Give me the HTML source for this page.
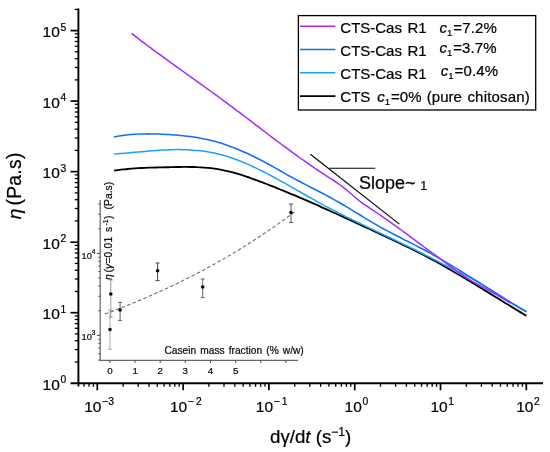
<!DOCTYPE html>
<html><head><meta charset="utf-8"><title>Viscosity</title>
<style>html,body{margin:0;padding:0;background:#fff}svg{display:block}</style></head>
<body>
<svg width="550" height="452" viewBox="0 0 550 452" font-family='"Liberation Sans", Arial, sans-serif'>
<rect width="550" height="452" fill="#fff"/>
<style>text{stroke:#000;stroke-width:0.22px;stroke-linejoin:round}</style>
<path d="M114.0,170.7 L117.5,170.2 L120.9,169.7 L124.4,169.3 L127.9,169.0 L131.3,168.7 L134.8,168.4 L138.3,168.2 L141.7,168.0 L145.2,167.9 L148.7,167.7 L152.1,167.6 L155.6,167.5 L159.1,167.4 L162.5,167.3 L166.0,167.2 L169.4,167.2 L172.9,167.1 L176.4,167.0 L179.8,167.0 L183.3,166.9 L186.8,166.9 L190.2,167.0 L193.7,167.0 L197.2,167.2 L200.6,167.3 L204.1,167.6 L207.6,167.9 L211.0,168.2 L214.5,168.7 L218.0,169.2 L221.4,169.9 L224.9,170.6 L228.4,171.4 L231.8,172.2 L235.3,173.2 L238.8,174.2 L242.2,175.2 L245.7,176.4 L249.2,177.5 L252.6,178.8 L256.1,180.0 L259.6,181.3 L263.0,182.6 L266.5,184.0 L269.9,185.3 L273.4,186.7 L276.9,188.1 L280.3,189.5 L283.8,190.9 L287.3,192.3 L290.7,193.8 L294.2,195.2 L297.7,196.7 L301.1,198.2 L304.6,199.7 L308.1,201.2 L311.5,202.7 L315.0,204.2 L318.5,205.7 L321.9,207.3 L325.4,208.8 L328.9,210.4 L332.3,212.0 L335.8,213.5 L339.3,215.1 L342.7,216.7 L346.2,218.3 L349.7,219.9 L353.1,221.5 L356.6,223.1 L360.1,224.7 L363.5,226.3 L367.0,227.9 L370.5,229.5 L373.9,231.1 L377.4,232.7 L380.8,234.3 L384.3,235.9 L387.8,237.6 L391.2,239.2 L394.7,240.8 L398.2,242.5 L401.6,244.1 L405.1,245.8 L408.6,247.5 L412.0,249.2 L415.5,250.9 L419.0,252.7 L422.4,254.4 L425.9,256.3 L429.4,258.1 L432.8,260.0 L436.3,261.8 L439.8,263.8 L443.2,265.7 L446.7,267.7 L450.2,269.7 L453.6,271.7 L457.1,273.7 L460.6,275.7 L464.0,277.8 L467.5,279.9 L471.0,281.9 L474.4,284.0 L477.9,286.1 L481.3,288.3 L484.8,290.4 L488.3,292.5 L491.7,294.6 L495.2,296.8 L498.7,298.9 L502.1,301.0 L505.6,303.2 L509.1,305.3 L512.5,307.4 L516.0,309.5 L519.5,311.6 L522.9,313.8 L526.4,315.8" fill="none" stroke="#000" stroke-width="1.85" stroke-linejoin="round"/>
<path d="M114.0,154.0 L117.5,153.8 L120.9,153.5 L124.4,153.2 L127.9,152.9 L131.3,152.6 L134.8,152.3 L138.3,152.0 L141.7,151.7 L145.2,151.4 L148.7,151.1 L152.1,150.8 L155.6,150.6 L159.1,150.3 L162.5,150.1 L166.0,149.9 L169.4,149.8 L172.9,149.7 L176.4,149.6 L179.8,149.6 L183.3,149.7 L186.8,149.8 L190.2,149.9 L193.7,150.2 L197.2,150.4 L200.6,150.8 L204.1,151.3 L207.6,151.8 L211.0,152.4 L214.5,153.1 L218.0,153.9 L221.4,154.8 L224.9,155.8 L228.4,156.8 L231.8,158.0 L235.3,159.2 L238.8,160.5 L242.2,161.9 L245.7,163.4 L249.2,164.9 L252.6,166.5 L256.1,168.1 L259.6,169.8 L263.0,171.5 L266.5,173.3 L269.9,175.1 L273.4,177.0 L276.9,178.9 L280.3,180.8 L283.8,182.7 L287.3,184.7 L290.7,186.6 L294.2,188.6 L297.7,190.6 L301.1,192.5 L304.6,194.5 L308.1,196.5 L311.5,198.4 L315.0,200.4 L318.5,202.3 L321.9,204.2 L325.4,206.1 L328.9,207.9 L332.3,209.7 L335.8,211.5 L339.3,213.3 L342.7,215.0 L346.2,216.8 L349.7,218.5 L353.1,220.2 L356.6,221.9 L360.1,223.5 L363.5,225.2 L367.0,226.9 L370.5,228.5 L373.9,230.1 L377.4,231.8 L380.8,233.4 L384.3,235.1 L387.8,236.7 L391.2,238.3 L394.7,240.0 L398.2,241.6 L401.6,243.3 L405.1,245.0 L408.6,246.6 L412.0,248.3 L415.5,250.0 L419.0,251.8 L422.4,253.5 L425.9,255.3 L429.4,257.0 L432.8,258.8 L436.3,260.6 L439.8,262.4 L443.2,264.2 L446.7,266.0 L450.2,267.7 L453.6,269.5 L457.1,271.2 L460.6,272.8 L464.0,274.6 L467.5,276.3 L471.0,278.1 L474.4,280.0 L477.9,282.0 L481.3,284.1 L484.8,286.2 L488.3,288.3 L491.7,290.5 L495.2,292.8 L498.7,295.0 L502.1,297.2 L505.6,299.5 L509.1,301.7 L512.5,303.8 L516.0,305.9 L519.5,308.0 L522.9,309.9 L526.4,311.8" fill="none" stroke="#1da1f8" stroke-width="1.5" stroke-linejoin="round"/>
<path d="M114.0,137.0 L117.5,136.3 L120.9,135.8 L124.4,135.3 L127.9,134.8 L131.3,134.5 L134.8,134.2 L138.3,134.1 L141.7,133.9 L145.2,133.9 L148.7,133.8 L152.1,133.9 L155.6,134.0 L159.1,134.1 L162.5,134.2 L166.0,134.4 L169.4,134.6 L172.9,134.9 L176.4,135.1 L179.8,135.4 L183.3,135.8 L186.8,136.2 L190.2,136.6 L193.7,137.1 L197.2,137.6 L200.6,138.2 L204.1,138.9 L207.6,139.6 L211.0,140.4 L214.5,141.3 L218.0,142.3 L221.4,143.3 L224.9,144.5 L228.4,145.7 L231.8,146.9 L235.3,148.3 L238.8,149.7 L242.2,151.2 L245.7,152.7 L249.2,154.3 L252.6,156.0 L256.1,157.7 L259.6,159.5 L263.0,161.3 L266.5,163.1 L269.9,165.0 L273.4,166.9 L276.9,168.9 L280.3,170.8 L283.8,172.8 L287.3,174.8 L290.7,176.7 L294.2,178.6 L297.7,180.5 L301.1,182.3 L304.6,184.1 L308.1,185.9 L311.5,187.7 L315.0,189.5 L318.5,191.2 L321.9,193.0 L325.4,194.9 L328.9,196.7 L332.3,198.6 L335.8,200.6 L339.3,202.5 L342.7,204.5 L346.2,206.6 L349.7,208.7 L353.1,210.8 L356.6,212.9 L360.1,215.0 L363.5,217.2 L367.0,219.3 L370.5,221.4 L373.9,223.4 L377.4,225.4 L380.8,227.4 L384.3,229.3 L387.8,231.1 L391.2,232.9 L394.7,234.8 L398.2,236.5 L401.6,238.3 L405.1,240.1 L408.6,241.8 L412.0,243.6 L415.5,245.4 L419.0,247.2 L422.4,249.0 L425.9,250.8 L429.4,252.7 L432.8,254.7 L436.3,256.6 L439.8,258.6 L443.2,260.6 L446.7,262.6 L450.2,264.7 L453.6,266.8 L457.1,268.9 L460.6,271.0 L464.0,273.1 L467.5,275.3 L471.0,277.4 L474.4,279.6 L477.9,281.7 L481.3,283.9 L484.8,286.1 L488.3,288.3 L491.7,290.5 L495.2,292.6 L498.7,294.8 L502.1,297.0 L505.6,299.1 L509.1,301.2 L512.5,303.4 L516.0,305.5 L519.5,307.6 L522.9,309.6 L526.4,311.7" fill="none" stroke="#0f6ff2" stroke-width="1.55" stroke-linejoin="round"/>
<path d="M131.6,33.4 L134.8,35.9 L138.0,38.3 L141.1,40.8 L144.3,43.2 L147.5,45.5 L150.7,47.9 L153.9,50.3 L157.0,52.6 L160.2,54.9 L163.4,57.2 L166.6,59.6 L169.8,61.9 L172.9,64.1 L176.1,66.4 L179.3,68.7 L182.5,71.0 L185.7,73.3 L188.8,75.6 L192.0,77.8 L195.2,80.1 L198.4,82.4 L201.6,84.7 L204.7,87.0 L207.9,89.2 L211.1,91.5 L214.3,93.9 L217.5,96.2 L220.6,98.5 L223.8,100.8 L227.0,103.2 L230.2,105.6 L233.4,107.9 L236.5,110.3 L239.7,112.7 L242.9,115.1 L246.1,117.5 L249.3,119.9 L252.4,122.4 L255.6,124.8 L258.8,127.2 L262.0,129.6 L265.2,132.0 L268.3,134.5 L271.5,136.9 L274.7,139.3 L277.9,141.6 L281.1,144.0 L284.2,146.4 L287.4,148.7 L290.6,151.1 L293.8,153.4 L297.0,155.7 L300.1,158.0 L303.3,160.2 L306.5,162.4 L309.7,164.7 L312.9,166.8 L316.0,169.0 L319.2,171.1 L322.4,173.2 L325.6,175.3 L328.7,177.3 L331.9,179.4 L335.1,181.5 L338.3,183.7 L341.5,186.0 L344.6,188.4 L347.8,191.0 L351.0,193.7 L354.2,196.5 L357.4,199.2 L360.5,201.8 L363.7,204.1 L366.9,206.2 L370.1,208.3 L373.3,210.4 L376.4,212.5 L379.6,214.6 L382.8,216.8 L386.0,219.1 L389.2,221.3 L392.3,223.6 L395.5,225.9 L398.7,228.2 L401.9,230.5 L405.1,232.9 L408.2,235.2 L411.4,237.6 L414.6,239.9 L417.8,242.3 L421.0,244.6 L424.1,247.0 L427.3,249.3 L430.5,251.6 L433.7,254.0 L436.9,256.3 L440.0,258.7 L443.2,261.1 L446.4,263.5 L449.6,265.9 L452.8,268.2 L455.9,270.6 L459.1,272.8 L462.3,275.0 L465.5,277.2 L468.7,279.2 L471.8,281.1 L475.0,282.9 L478.2,284.7 L481.4,286.5 L484.6,288.2 L487.7,289.9 L490.9,291.6 L494.1,293.4 L497.3,295.1 L500.5,297.0 L503.6,298.9 L506.8,300.9 L510.0,303.0" fill="none" stroke="#a629ff" stroke-width="1.5" stroke-linejoin="round"/>
<g stroke="#000" fill="none">
<line x1="78.4" y1="8.5" x2="78.4" y2="386.6" stroke-width="1.9"/>
<line x1="70.5" y1="383.2" x2="543" y2="383.2" stroke-width="1.9"/>
<line x1="74.8" y1="362.0" x2="78.4" y2="362.0" stroke-width="1.3"/>
<line x1="74.8" y1="349.6" x2="78.4" y2="349.6" stroke-width="1.3"/>
<line x1="74.8" y1="340.7" x2="78.4" y2="340.7" stroke-width="1.3"/>
<line x1="74.8" y1="333.9" x2="78.4" y2="333.9" stroke-width="1.3"/>
<line x1="74.8" y1="328.3" x2="78.4" y2="328.3" stroke-width="1.3"/>
<line x1="74.8" y1="323.6" x2="78.4" y2="323.6" stroke-width="1.3"/>
<line x1="74.8" y1="319.5" x2="78.4" y2="319.5" stroke-width="1.3"/>
<line x1="74.8" y1="315.9" x2="78.4" y2="315.9" stroke-width="1.3"/>
<line x1="70.5" y1="312.7" x2="78.4" y2="312.7" stroke-width="1.7"/>
<line x1="74.8" y1="291.5" x2="78.4" y2="291.5" stroke-width="1.3"/>
<line x1="74.8" y1="279.0" x2="78.4" y2="279.0" stroke-width="1.3"/>
<line x1="74.8" y1="270.2" x2="78.4" y2="270.2" stroke-width="1.3"/>
<line x1="74.8" y1="263.4" x2="78.4" y2="263.4" stroke-width="1.3"/>
<line x1="74.8" y1="257.8" x2="78.4" y2="257.8" stroke-width="1.3"/>
<line x1="74.8" y1="253.1" x2="78.4" y2="253.1" stroke-width="1.3"/>
<line x1="74.8" y1="249.0" x2="78.4" y2="249.0" stroke-width="1.3"/>
<line x1="74.8" y1="245.4" x2="78.4" y2="245.4" stroke-width="1.3"/>
<line x1="70.5" y1="242.2" x2="78.4" y2="242.2" stroke-width="1.7"/>
<line x1="74.8" y1="220.9" x2="78.4" y2="220.9" stroke-width="1.3"/>
<line x1="74.8" y1="208.5" x2="78.4" y2="208.5" stroke-width="1.3"/>
<line x1="74.8" y1="199.7" x2="78.4" y2="199.7" stroke-width="1.3"/>
<line x1="74.8" y1="192.9" x2="78.4" y2="192.9" stroke-width="1.3"/>
<line x1="74.8" y1="187.3" x2="78.4" y2="187.3" stroke-width="1.3"/>
<line x1="74.8" y1="182.6" x2="78.4" y2="182.6" stroke-width="1.3"/>
<line x1="74.8" y1="178.5" x2="78.4" y2="178.5" stroke-width="1.3"/>
<line x1="74.8" y1="174.9" x2="78.4" y2="174.9" stroke-width="1.3"/>
<line x1="70.5" y1="171.6" x2="78.4" y2="171.6" stroke-width="1.7"/>
<line x1="74.8" y1="150.4" x2="78.4" y2="150.4" stroke-width="1.3"/>
<line x1="74.8" y1="138.0" x2="78.4" y2="138.0" stroke-width="1.3"/>
<line x1="74.8" y1="129.2" x2="78.4" y2="129.2" stroke-width="1.3"/>
<line x1="74.8" y1="122.3" x2="78.4" y2="122.3" stroke-width="1.3"/>
<line x1="74.8" y1="116.8" x2="78.4" y2="116.8" stroke-width="1.3"/>
<line x1="74.8" y1="112.0" x2="78.4" y2="112.0" stroke-width="1.3"/>
<line x1="74.8" y1="108.0" x2="78.4" y2="108.0" stroke-width="1.3"/>
<line x1="74.8" y1="104.3" x2="78.4" y2="104.3" stroke-width="1.3"/>
<line x1="70.5" y1="101.1" x2="78.4" y2="101.1" stroke-width="1.7"/>
<line x1="74.8" y1="79.9" x2="78.4" y2="79.9" stroke-width="1.3"/>
<line x1="74.8" y1="67.5" x2="78.4" y2="67.5" stroke-width="1.3"/>
<line x1="74.8" y1="58.7" x2="78.4" y2="58.7" stroke-width="1.3"/>
<line x1="74.8" y1="51.8" x2="78.4" y2="51.8" stroke-width="1.3"/>
<line x1="74.8" y1="46.2" x2="78.4" y2="46.2" stroke-width="1.3"/>
<line x1="74.8" y1="41.5" x2="78.4" y2="41.5" stroke-width="1.3"/>
<line x1="74.8" y1="37.4" x2="78.4" y2="37.4" stroke-width="1.3"/>
<line x1="74.8" y1="33.8" x2="78.4" y2="33.8" stroke-width="1.3"/>
<line x1="70.5" y1="30.6" x2="78.4" y2="30.6" stroke-width="1.7"/>
<line x1="74.8" y1="9.4" x2="78.4" y2="9.4" stroke-width="1.3"/>
<line x1="84.0" y1="383.2" x2="84.0" y2="386.8" stroke-width="1.3"/>
<line x1="89.0" y1="383.2" x2="89.0" y2="386.8" stroke-width="1.3"/>
<line x1="93.4" y1="383.2" x2="93.4" y2="386.8" stroke-width="1.3"/>
<line x1="97.3" y1="383.2" x2="97.3" y2="390.3" stroke-width="1.7"/>
<line x1="123.1" y1="383.2" x2="123.1" y2="386.8" stroke-width="1.3"/>
<line x1="138.2" y1="383.2" x2="138.2" y2="386.8" stroke-width="1.3"/>
<line x1="149.0" y1="383.2" x2="149.0" y2="386.8" stroke-width="1.3"/>
<line x1="157.3" y1="383.2" x2="157.3" y2="386.8" stroke-width="1.3"/>
<line x1="164.1" y1="383.2" x2="164.1" y2="386.8" stroke-width="1.3"/>
<line x1="169.8" y1="383.2" x2="169.8" y2="386.8" stroke-width="1.3"/>
<line x1="174.8" y1="383.2" x2="174.8" y2="386.8" stroke-width="1.3"/>
<line x1="179.2" y1="383.2" x2="179.2" y2="386.8" stroke-width="1.3"/>
<line x1="183.1" y1="383.2" x2="183.1" y2="390.3" stroke-width="1.7"/>
<line x1="208.9" y1="383.2" x2="208.9" y2="386.8" stroke-width="1.3"/>
<line x1="224.0" y1="383.2" x2="224.0" y2="386.8" stroke-width="1.3"/>
<line x1="234.8" y1="383.2" x2="234.8" y2="386.8" stroke-width="1.3"/>
<line x1="243.1" y1="383.2" x2="243.1" y2="386.8" stroke-width="1.3"/>
<line x1="249.9" y1="383.2" x2="249.9" y2="386.8" stroke-width="1.3"/>
<line x1="255.6" y1="383.2" x2="255.6" y2="386.8" stroke-width="1.3"/>
<line x1="260.6" y1="383.2" x2="260.6" y2="386.8" stroke-width="1.3"/>
<line x1="265.0" y1="383.2" x2="265.0" y2="386.8" stroke-width="1.3"/>
<line x1="268.9" y1="383.2" x2="268.9" y2="390.3" stroke-width="1.7"/>
<line x1="294.7" y1="383.2" x2="294.7" y2="386.8" stroke-width="1.3"/>
<line x1="309.8" y1="383.2" x2="309.8" y2="386.8" stroke-width="1.3"/>
<line x1="320.6" y1="383.2" x2="320.6" y2="386.8" stroke-width="1.3"/>
<line x1="328.9" y1="383.2" x2="328.9" y2="386.8" stroke-width="1.3"/>
<line x1="335.7" y1="383.2" x2="335.7" y2="386.8" stroke-width="1.3"/>
<line x1="341.4" y1="383.2" x2="341.4" y2="386.8" stroke-width="1.3"/>
<line x1="346.4" y1="383.2" x2="346.4" y2="386.8" stroke-width="1.3"/>
<line x1="350.8" y1="383.2" x2="350.8" y2="386.8" stroke-width="1.3"/>
<line x1="354.7" y1="383.2" x2="354.7" y2="390.3" stroke-width="1.7"/>
<line x1="380.5" y1="383.2" x2="380.5" y2="386.8" stroke-width="1.3"/>
<line x1="395.6" y1="383.2" x2="395.6" y2="386.8" stroke-width="1.3"/>
<line x1="406.4" y1="383.2" x2="406.4" y2="386.8" stroke-width="1.3"/>
<line x1="414.7" y1="383.2" x2="414.7" y2="386.8" stroke-width="1.3"/>
<line x1="421.5" y1="383.2" x2="421.5" y2="386.8" stroke-width="1.3"/>
<line x1="427.2" y1="383.2" x2="427.2" y2="386.8" stroke-width="1.3"/>
<line x1="432.2" y1="383.2" x2="432.2" y2="386.8" stroke-width="1.3"/>
<line x1="436.6" y1="383.2" x2="436.6" y2="386.8" stroke-width="1.3"/>
<line x1="440.5" y1="383.2" x2="440.5" y2="390.3" stroke-width="1.7"/>
<line x1="466.3" y1="383.2" x2="466.3" y2="386.8" stroke-width="1.3"/>
<line x1="481.4" y1="383.2" x2="481.4" y2="386.8" stroke-width="1.3"/>
<line x1="492.2" y1="383.2" x2="492.2" y2="386.8" stroke-width="1.3"/>
<line x1="500.5" y1="383.2" x2="500.5" y2="386.8" stroke-width="1.3"/>
<line x1="507.3" y1="383.2" x2="507.3" y2="386.8" stroke-width="1.3"/>
<line x1="513.0" y1="383.2" x2="513.0" y2="386.8" stroke-width="1.3"/>
<line x1="518.0" y1="383.2" x2="518.0" y2="386.8" stroke-width="1.3"/>
<line x1="522.4" y1="383.2" x2="522.4" y2="386.8" stroke-width="1.3"/>
<line x1="526.3" y1="383.2" x2="526.3" y2="390.3" stroke-width="1.7"/>
</g>
<text x="42.6" y="390.0" font-size="15.5" text-anchor="start">10<tspan font-size="10.3" dx="0.6" dy="-6.6">0</tspan></text>
<text x="42.6" y="319.48" font-size="15.5" text-anchor="start">10<tspan font-size="10.3" dx="0.6" dy="-6.6">1</tspan></text>
<text x="42.6" y="248.96" font-size="15.5" text-anchor="start">10<tspan font-size="10.3" dx="0.6" dy="-6.6">2</tspan></text>
<text x="42.6" y="178.44" font-size="15.5" text-anchor="start">10<tspan font-size="10.3" dx="0.6" dy="-6.6">3</tspan></text>
<text x="42.6" y="107.92" font-size="15.5" text-anchor="start">10<tspan font-size="10.3" dx="0.6" dy="-6.6">4</tspan></text>
<text x="42.6" y="37.4" font-size="15.5" text-anchor="start">10<tspan font-size="10.3" dx="0.6" dy="-6.6">5</tspan></text>
<text x="84.2" y="411.8" font-size="15.5" text-anchor="start">10<tspan font-size="10.3" dx="0.6" dy="-6.6">−<tspan dx="0.2">3</tspan></tspan></text>
<text x="170" y="411.8" font-size="15.5" text-anchor="start">10<tspan font-size="10.3" dx="0.6" dy="-6.6">−<tspan dx="2.1">2</tspan></tspan></text>
<text x="255.8" y="411.8" font-size="15.5" text-anchor="start">10<tspan font-size="10.3" dx="0.6" dy="-6.6">−<tspan dx="2.1">1</tspan></tspan></text>
<text x="344.6" y="411.8" font-size="15.5" text-anchor="start">10<tspan font-size="10.3" dx="0.6" dy="-6.6">0</tspan></text>
<text x="430.4" y="411.8" font-size="15.5" text-anchor="start">10<tspan font-size="10.3" dx="0.6" dy="-6.6">1</tspan></text>
<text x="516.2" y="411.8" font-size="15.5" text-anchor="start">10<tspan font-size="10.3" dx="0.6" dy="-6.6">2</tspan></text>
<text transform="translate(20.8,219.3) rotate(-90)" font-size="19.3"><tspan font-style="italic">η</tspan><tspan dx="3.0" letter-spacing="0.3">(Pa.s)</tspan></text>
<text x="270" y="443" font-size="18.7">dγ/d<tspan font-style="italic">t</tspan> (s<tspan font-size="12" dy="-7.5">−1</tspan><tspan dy="7.5">)</tspan></text>
<rect x="298.4" y="15.6" width="237.3" height="94.4" fill="#fff" stroke="#000" stroke-width="1.3"/>
<line x1="300" y1="26.3" x2="335.4" y2="26.3" stroke="#a629ff" stroke-width="1.4"/>
<line x1="300" y1="49.5" x2="335.4" y2="49.5" stroke="#0f6ff2" stroke-width="1.6"/>
<line x1="300" y1="72.8" x2="335.4" y2="72.8" stroke="#1da1f8" stroke-width="1.6"/>
<line x1="300" y1="96.1" x2="335.4" y2="96.1" stroke="#000" stroke-width="1.9"/>
<text y="32.6" font-size="15"><tspan x="340.3">CTS-Cas</tspan><tspan x="407.4">R1</tspan></text>
<text y="55.6" font-size="15"><tspan x="340.3">CTS-Cas</tspan><tspan x="407.4">R1</tspan></text>
<text y="78.8" font-size="15"><tspan x="340.3">CTS-Cas</tspan><tspan x="407.4">R1</tspan></text>
<text x="439.6" y="32.6" font-size="15"><tspan font-style="italic">c</tspan><tspan font-size="9.6" dy="3.2">1</tspan><tspan dy="-3.2" dx="0.9" letter-spacing="0.15">=7.2%</tspan></text>
<text x="439.4" y="53" font-size="15"><tspan font-style="italic">c</tspan><tspan font-size="9.6" dy="3.2">1</tspan><tspan dy="-3.2" dx="0.9" letter-spacing="0.15">=3.7%</tspan></text>
<text x="440.8" y="76.2" font-size="15"><tspan font-style="italic">c</tspan><tspan font-size="9.6" dy="3.2">1</tspan><tspan dy="-3.2" dx="0.9" letter-spacing="0.15">=0.4%</tspan></text>
<text x="340.3" y="102" font-size="15">CTS</text>
<text x="377.2" y="102" font-size="15"><tspan font-style="italic">c</tspan><tspan font-size="9.6" dy="3.2">1</tspan><tspan dy="-3.2" dx="0.9" letter-spacing="0.15">=0%</tspan></text>
<text y="102" font-size="15"><tspan x="426.8">(pure</tspan><tspan x="467.4" letter-spacing="0.2">chitosan)</tspan></text>
<line x1="310.4" y1="154.2" x2="399.4" y2="224.1" stroke="#000" stroke-width="1.15"/>
<line x1="329.4" y1="168.2" x2="375.2" y2="168.2" stroke="#000" stroke-width="1.1"/>
<text x="358.9" y="189" font-size="18">Slope~</text>
<text x="420.3" y="189.8" font-size="12.5">1</text>
<g stroke="#444" stroke-width="1" fill="none">
<line x1="100.2" y1="200" x2="100.2" y2="360.3"/>
<line x1="99.7" y1="360.3" x2="298.2" y2="360.3"/>
<line x1="98.4" y1="360.1" x2="100.2" y2="360.1"/>
<line x1="98.4" y1="353.6" x2="100.2" y2="353.6"/>
<line x1="98.4" y1="348.1" x2="100.2" y2="348.1"/>
<line x1="98.4" y1="343.3" x2="100.2" y2="343.3"/>
<line x1="98.4" y1="339.2" x2="100.2" y2="339.2"/>
<line x1="97.0" y1="335.4" x2="100.2" y2="335.4"/>
<line x1="98.4" y1="310.7" x2="100.2" y2="310.7"/>
<line x1="98.4" y1="296.3" x2="100.2" y2="296.3"/>
<line x1="98.4" y1="286.0" x2="100.2" y2="286.0"/>
<line x1="98.4" y1="278.1" x2="100.2" y2="278.1"/>
<line x1="98.4" y1="271.6" x2="100.2" y2="271.6"/>
<line x1="98.4" y1="266.1" x2="100.2" y2="266.1"/>
<line x1="98.4" y1="261.3" x2="100.2" y2="261.3"/>
<line x1="98.4" y1="257.2" x2="100.2" y2="257.2"/>
<line x1="97.0" y1="253.4" x2="100.2" y2="253.4"/>
<line x1="98.4" y1="228.7" x2="100.2" y2="228.7"/>
<line x1="98.4" y1="214.3" x2="100.2" y2="214.3"/>
<line x1="98.4" y1="204.0" x2="100.2" y2="204.0"/>
<line x1="109.9" y1="360.3" x2="109.9" y2="362.90000000000003"/>
<line x1="135.1" y1="360.3" x2="135.1" y2="362.90000000000003"/>
<line x1="160.2" y1="360.3" x2="160.2" y2="362.90000000000003"/>
<line x1="185.3" y1="360.3" x2="185.3" y2="362.90000000000003"/>
<line x1="210.5" y1="360.3" x2="210.5" y2="362.90000000000003"/>
<line x1="235.7" y1="360.3" x2="235.7" y2="362.90000000000003"/>
<line x1="260.8" y1="360.3" x2="260.8" y2="362.90000000000003"/>
<line x1="285.9" y1="360.3" x2="285.9" y2="362.90000000000003"/>
</g>
<text x="109.9" y="373.9" font-size="9.7" text-anchor="middle" fill="#111">0</text>
<text x="135.1" y="373.9" font-size="9.7" text-anchor="middle" fill="#111">1</text>
<text x="160.2" y="373.9" font-size="9.7" text-anchor="middle" fill="#111">2</text>
<text x="185.3" y="373.9" font-size="9.7" text-anchor="middle" fill="#111">3</text>
<text x="210.5" y="373.9" font-size="9.7" text-anchor="middle" fill="#111">4</text>
<text x="235.7" y="373.9" font-size="9.7" text-anchor="middle" fill="#111">5</text>
<text x="81.5" y="258.6" font-size="9.3" fill="#111">10<tspan font-size="6.6" dy="-4.6">4</tspan></text>
<text x="81.5" y="339.6" font-size="9.3" fill="#111">10<tspan font-size="6.6" dy="-4.6">3</tspan></text>
<text x="164.4" y="354" font-size="10.2" word-spacing="1.3" fill="#111">Casein mass fraction (% w/w)</text>
<text transform="translate(112.4,280.1) rotate(-90)" font-size="10.4" fill="#111"><tspan font-style="italic" x="0">η</tspan><tspan x="7.5" letter-spacing="0.15">(<tspan font-style="italic">γ</tspan>=0.01</tspan><tspan x="48.2">s</tspan><tspan font-size="6.8" x="54.6" dy="-4.4">-1</tspan><tspan x="61.2" dy="4.4">)</tspan><tspan x="70.6">(Pa.s)</tspan></text>
<path d="M105.0,314.0 L109.9,312.1 L114.8,310.3 L119.7,308.4 L124.5,306.5 L129.4,304.5 L134.3,302.5 L139.2,300.5 L144.1,298.4 L149.0,296.3 L153.8,294.2 L158.7,292.0 L163.6,289.8 L168.5,287.5 L173.4,285.2 L178.3,282.9 L183.2,280.5 L188.0,278.1 L192.9,275.6 L197.8,273.0 L202.7,270.5 L207.6,267.8 L212.5,265.2 L217.3,262.4 L222.2,259.7 L227.1,256.8 L232.0,254.0 L236.9,251.0 L241.8,248.0 L246.7,245.0 L251.5,241.9 L256.4,238.7 L261.3,235.5 L266.2,232.2 L271.1,228.9 L276.0,225.5 L280.8,222.0 L285.7,218.5 L290.6,214.9 L295.5,211.3" fill="none" stroke="#707070" stroke-width="1.1" stroke-dasharray="3.6,2.3"/>
<g stroke="#aaa" stroke-width="1"><line x1="110" y1="310" x2="110" y2="349.3"/><line x1="108" y1="310" x2="112" y2="310"/><line x1="108" y1="349.3" x2="112" y2="349.3"/></g>
<circle cx="110" cy="329.5" r="1.8" fill="#000"/>
<g stroke="#999" stroke-width="1"><line x1="110.8" y1="280" x2="110.8" y2="317"/><line x1="108.8" y1="280" x2="112.8" y2="280"/><line x1="108.8" y1="317" x2="112.8" y2="317"/></g>
<circle cx="110.8" cy="294" r="1.8" fill="#000"/>
<g stroke="#666" stroke-width="1"><line x1="120.1" y1="302.4" x2="120.1" y2="320.4"/><line x1="118.1" y1="302.4" x2="122.1" y2="302.4"/><line x1="118.1" y1="320.4" x2="122.1" y2="320.4"/></g>
<circle cx="120.1" cy="310" r="1.8" fill="#000"/>
<g stroke="#444" stroke-width="1"><line x1="157.6" y1="263" x2="157.6" y2="280.6"/><line x1="155.6" y1="263" x2="159.6" y2="263"/><line x1="155.6" y1="280.6" x2="159.6" y2="280.6"/></g>
<circle cx="157.6" cy="270.7" r="1.8" fill="#000"/>
<g stroke="#666" stroke-width="1"><line x1="202.7" y1="279" x2="202.7" y2="297.6"/><line x1="200.7" y1="279" x2="204.7" y2="279"/><line x1="200.7" y1="297.6" x2="204.7" y2="297.6"/></g>
<circle cx="202.7" cy="287" r="1.8" fill="#000"/>
<g stroke="#555" stroke-width="1"><line x1="291" y1="204" x2="291" y2="222.6"/><line x1="289" y1="204" x2="293" y2="204"/><line x1="289" y1="222.6" x2="293" y2="222.6"/></g>
<circle cx="291" cy="212.5" r="1.8" fill="#000"/>
</svg>
</body></html>
